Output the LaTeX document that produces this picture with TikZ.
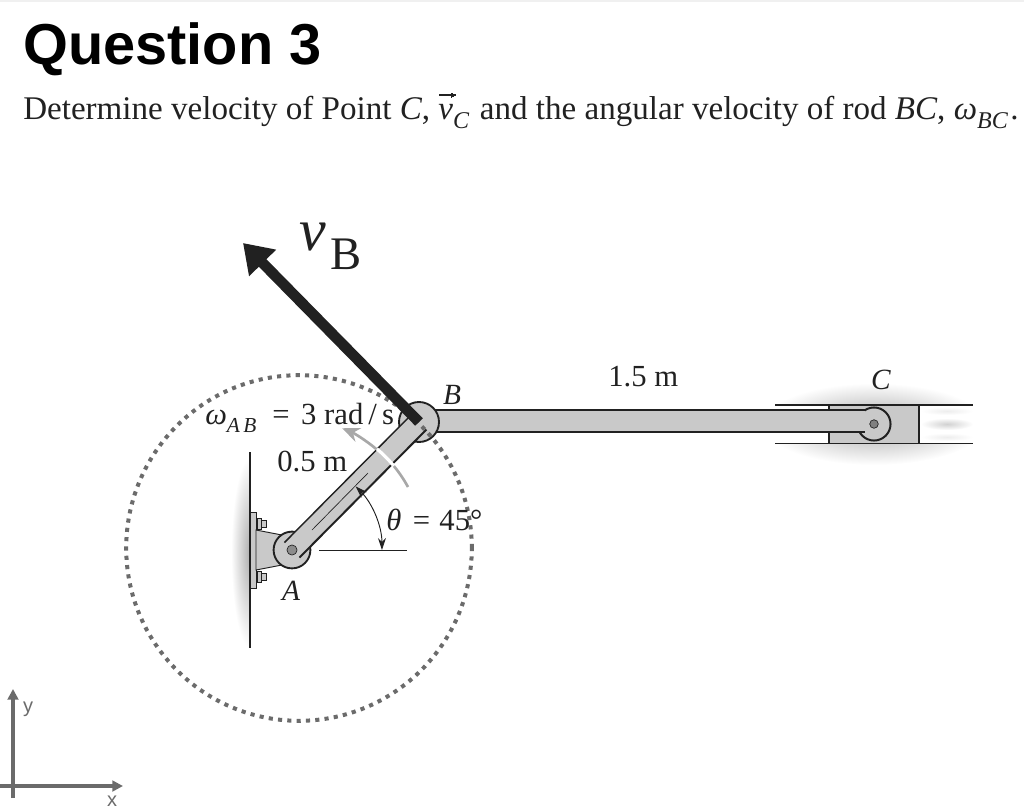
\documentclass[tikz,border=0pt]{standalone}
\usepackage{fontspec}
\setmainfont{Liberation Serif}
\newfontfamily\headfont{Liberation Sans}
\usetikzlibrary{arrows.meta,calc}
\definecolor{rodgray}{gray}{0.79}
\definecolor{inkdark}{gray}{0.13}
\definecolor{axisgray}{gray}{0.42}
\definecolor{dotgray}{gray}{0.42}
\definecolor{omegagray}{gray}{0.66}
\newcommand\lowsub[2]{\raisebox{-.28em}{\fontsize{#1}{#1}\selectfont\itshape #2}}
\newcommand\vecv{\makebox[0pt][l]{\hspace{.02em}\raisebox{.7em}{\rule{.36em}{.045em}\rule[-.05em]{.035em}{.145em}\rule[-.035em]{.035em}{.115em}\rule[-.02em]{.035em}{.085em}\rule[-.005em]{.035em}{.055em}}}\textit{v}}
\tikzset{
  x=0.75pt,y=-0.75pt,
  lab/.style={inner sep=0pt,anchor=base west,font=\fontsize{23}{26}\selectfont,text=inkdark},
  pointlab/.style={inner sep=0pt,anchor=base,font=\fontsize{22}{26}\selectfont\itshape,text=inkdark},
  edge/.style={draw=inkdark,line width=1.1pt},
  rod/.style={fill=rodgray},
  omegaarc/.style={draw=omegagray,line width=2pt},
  axisline/.style={draw=axisgray,line width=2.8pt},
}
\begin{document}
\begin{tikzpicture}
\useasboundingbox (0,0) rectangle (1024,811);
\fill[gray!12] (0,0) rectangle (1024,1.5);
% key points
\coordinate (A) at (292,550);
\coordinate (B) at (419,422);
\coordinate (C) at (874,424);
\coordinate (vtip) at (243,243);
\coordinate (cc) at (299,548);
% title
\node[inner sep=0pt,anchor=base west,font=\headfont\bfseries\fontsize{43.3}{48}\selectfont] (title) at (23,64) {Question 3};
\node[inner sep=0pt,anchor=base west,font=\fontsize{24.8}{28}\selectfont,text=inkdark] (body) at (23,119)
  {Determine velocity of Point \textit{C}, \vecv\lowsub{18}{C}\hspace{.08em} and the angular velocity of rod \textit{BC}, \textit{ω}\lowsub{18}{BC}\hspace{.08em}.};
% slider shadow
\begin{scope}
\clip (772,380) rectangle (976,470);
\shade[inner color=black!34,outer color=white] (874,424) ellipse[x radius=112,y radius=41];
\end{scope}
\fill[white] (770,405) rectangle (980,443);
\shade[inner color=black!18,outer color=white] (947,424) ellipse[x radius=26,y radius=6];
\shade[inner color=black!7,outer color=white] (947,411) ellipse[x radius=26,y radius=4];
\shade[inner color=black!7,outer color=white] (947,437) ellipse[x radius=26,y radius=4];
% slider
\coordinate (rail1a) at (775,405); \coordinate (rail1b) at (973,405);
\coordinate (rail2a) at (775,443.5); \coordinate (rail2b) at (973,443.5);
\draw[fill=rodgray,draw=inkdark,line width=1pt] (829,405) rectangle (919,443.5);
\draw[edge] (rail1a) -- (rail1b);
\draw[edge] (rail2a) -- (rail2b);
% rod BC
\fill[rod] ($(B)+(0,-12)$) rectangle (865,432);
\draw[edge,line width=1.5pt,fill=rodgray] (C) circle[radius=12.4pt];
\fill[rod] (850,410.5) rectangle (865,431);
\draw[edge,line width=1.5pt] (435,409.5) -- (865,409.5);
\draw[edge,line width=1.5pt] (435,432) -- (865,432);
\draw[fill=black!50,draw=inkdark,line width=.5pt] (C) circle[radius=3.2pt];
% wall
\begin{scope}
\clip (200,440) rectangle (250,660);
\shade[inner color=black!32,outer color=white] (250,553) ellipse[x radius=19,y radius=95];
\end{scope}
\coordinate (wall1) at (250,452); \coordinate (wall2) at (250,648);
\draw[draw=inkdark,line width=1pt] (wall1) -- (wall2);
\draw[fill=rodgray,draw=inkdark,line width=.7pt] (250.5,512) rectangle (256,588);
\draw[fill=rodgray,draw=inkdark,line width=.5pt] (257,518) rectangle (261,529);
\draw[fill=rodgray,draw=inkdark,line width=.5pt] (261,520) rectangle (266,527);
\draw[fill=rodgray,draw=inkdark,line width=.5pt] (257,571) rectangle (261,582);
\draw[fill=rodgray,draw=inkdark,line width=.5pt] (261,573) rectangle (266,580);
\draw[fill=rodgray,draw=inkdark,line width=.7pt] (256,530) -- (282,535) -- (282,565) -- (256,570) -- cycle;
% rod AB
\draw[edge,fill=rodgray,line width=1.4pt] (A) circle[radius=13.8pt];
\draw[edge,fill=rodgray,line width=1.4pt] (B) circle[radius=15pt];
\fill[rod] ($(A)+(-7.5,-7.5)$) -- ($(B)+(-7.5,-7.5)$) -- ($(B)+(7.5,7.5)$) -- ($(A)+(7.5,7.5)$) -- cycle;
\draw[edge,line width=1.1pt] ($(A)+(-7.5,-7.5)$) -- ($(B)+(-7.5,-7.5)$);
\draw[edge,line width=1.5pt] ($(A)+(7.5,7.5)$) -- ($(B)+(7.5,7.5)$);
\draw[fill=black!45,draw=inkdark,line width=.5pt] (A) circle[radius=3.8pt];
\draw[inkdark,line width=.5pt] (312,530) -- (368,473);
% dotted circle
\draw[dotgray,line width=3pt,dash pattern=on 3.1pt off 3.9pt] (cc) circle[radius=129.6pt];
% velocity arrow
\draw[inkdark,line width=8pt,-{Triangle[length=21pt,width=27pt]}] (B) -- (vtip);
% angle
\coordinate (th1) at (319,550); \coordinate (th2) at (407,550);
\draw[inkdark,line width=.6pt] (th1) -- (th2);
\draw[inkdark,line width=.7pt,{Stealth[length=9pt,width=6pt]}-{Stealth[length=9pt,width=6pt]}] (355.6,486.4) arc[start angle=45,end angle=0,radius=67.5pt];
% omega arc
\draw[omegaarc] (408,487) arc[start angle=28.5,end angle=39.5,radius=99pt];
\draw[white,line width=2.4pt] (393.1,465.1) arc[start angle=40,end angle=50,radius=99pt];
\draw[omegaarc,-{Stealth[length=13pt,width=11pt]}] (376.1,448.9) arc[start angle=50,end angle=67.3,radius=99pt];
% labels
\node[inner sep=0pt,anchor=base west,font=\fontsize{45}{50}\selectfont\itshape,text=inkdark] (vb) at (299,250) {v};
\node[inner sep=0pt,anchor=base west,font=\fontsize{35}{38}\selectfont,text=inkdark] (vbB) at (330,269) {B};
\node[lab] (wab) at (205,424) {\textit{ω}\lowsub{16}{A\,B}};
\node[lab] (wval) at (272,424) {=\hspace{.38em}3 rad\,/\,s};
\node[lab] (len1) at (277,471) {0.5 m};
\node[lab] (len2) at (608,386) {1.5 m};
\node[lab] (thl) at (386,530) {\textit{θ}\hspace{.38em}=\hspace{.3em}45°};
\node[pointlab] (lA) at (291,600) {A};
\node[pointlab] (lB) at (452,404) {B};
\node[pointlab] (lC) at (881,389) {C};
% axes
\coordinate (yb) at (13,798); \coordinate (yt) at (13,689);
\coordinate (xl) at (0,786); \coordinate (xr) at (123,786);
\draw[axisline,-{Triangle[length=8pt,width=8pt]}] (yb) -- (yt);
\draw[axisline,-{Triangle[length=8pt,width=8pt]}] (xl) -- (xr);
\node[inner sep=0pt,anchor=base,font=\headfont\fontsize{15}{16}\selectfont,text=axisgray] (ly) at (28,712) {y};
\node[inner sep=0pt,anchor=base,font=\headfont\fontsize{15}{16}\selectfont,text=axisgray] (lx) at (112,806) {x};
\end{tikzpicture}
\end{document}
